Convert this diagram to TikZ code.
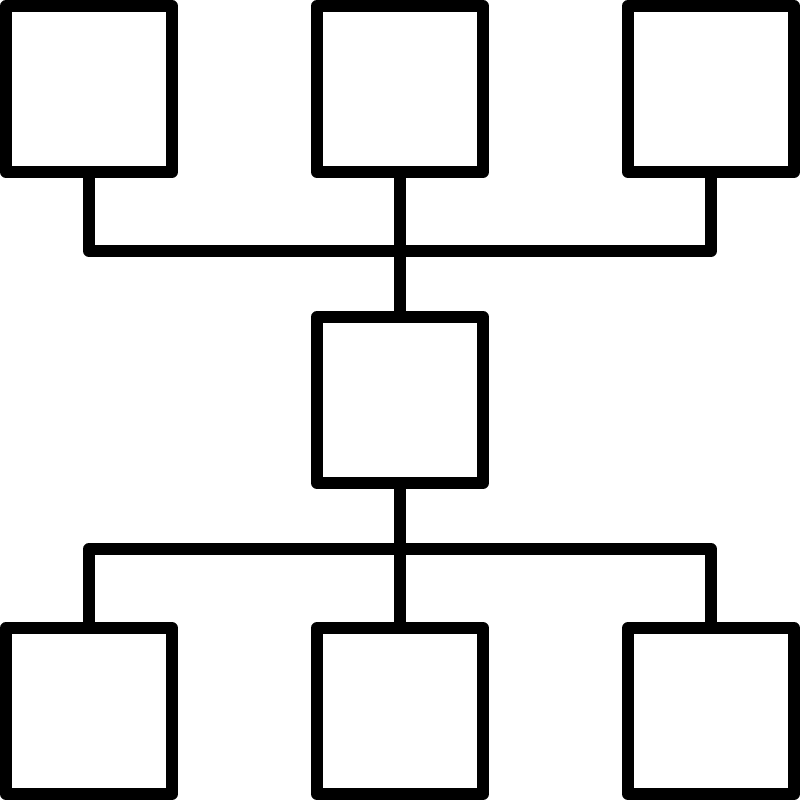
\documentclass[tikz,border=0pt]{standalone}

\begin{document}
\begin{tikzpicture}[box/.style={draw, rectangle, minimum size=1.66cm, inner sep=0pt},
                    every path/.style={line width=0.12cm, line join=round}]
			\useasboundingbox (0,0) rectangle (8,8);
			\node[box] (t1) at (0.89, 7.11) {};
			\node[box] (t2) at (4.00, 7.11) {};
			\node[box] (t3) at (7.11, 7.11) {};
			\node[box] (m)  at (4.00, 4.00) {};
			\node[box] (b1) at (0.89, 0.89) {};
			\node[box] (b2) at (4.00, 0.89) {};
			\node[box] (b3) at (7.11, 0.89) {};
			\coordinate (topbar) at (4.00, 5.49);
			\coordinate (botbar) at (4.00, 2.51);
			
			\def\bars {t1.south/t3.south/topbar, b1.north/b3.north/botbar}  % outer branches
			\foreach \u\v\bar in \bars
			{	\draw (\u) |- (\bar) -| (\v);
			}
			
			\def\stems {t2/m, m/b2}  % centre line
			\foreach \u\v in \stems
			{	\draw (\u.south) -- (\v.north);
			}
		\end{tikzpicture}
\end{document}
